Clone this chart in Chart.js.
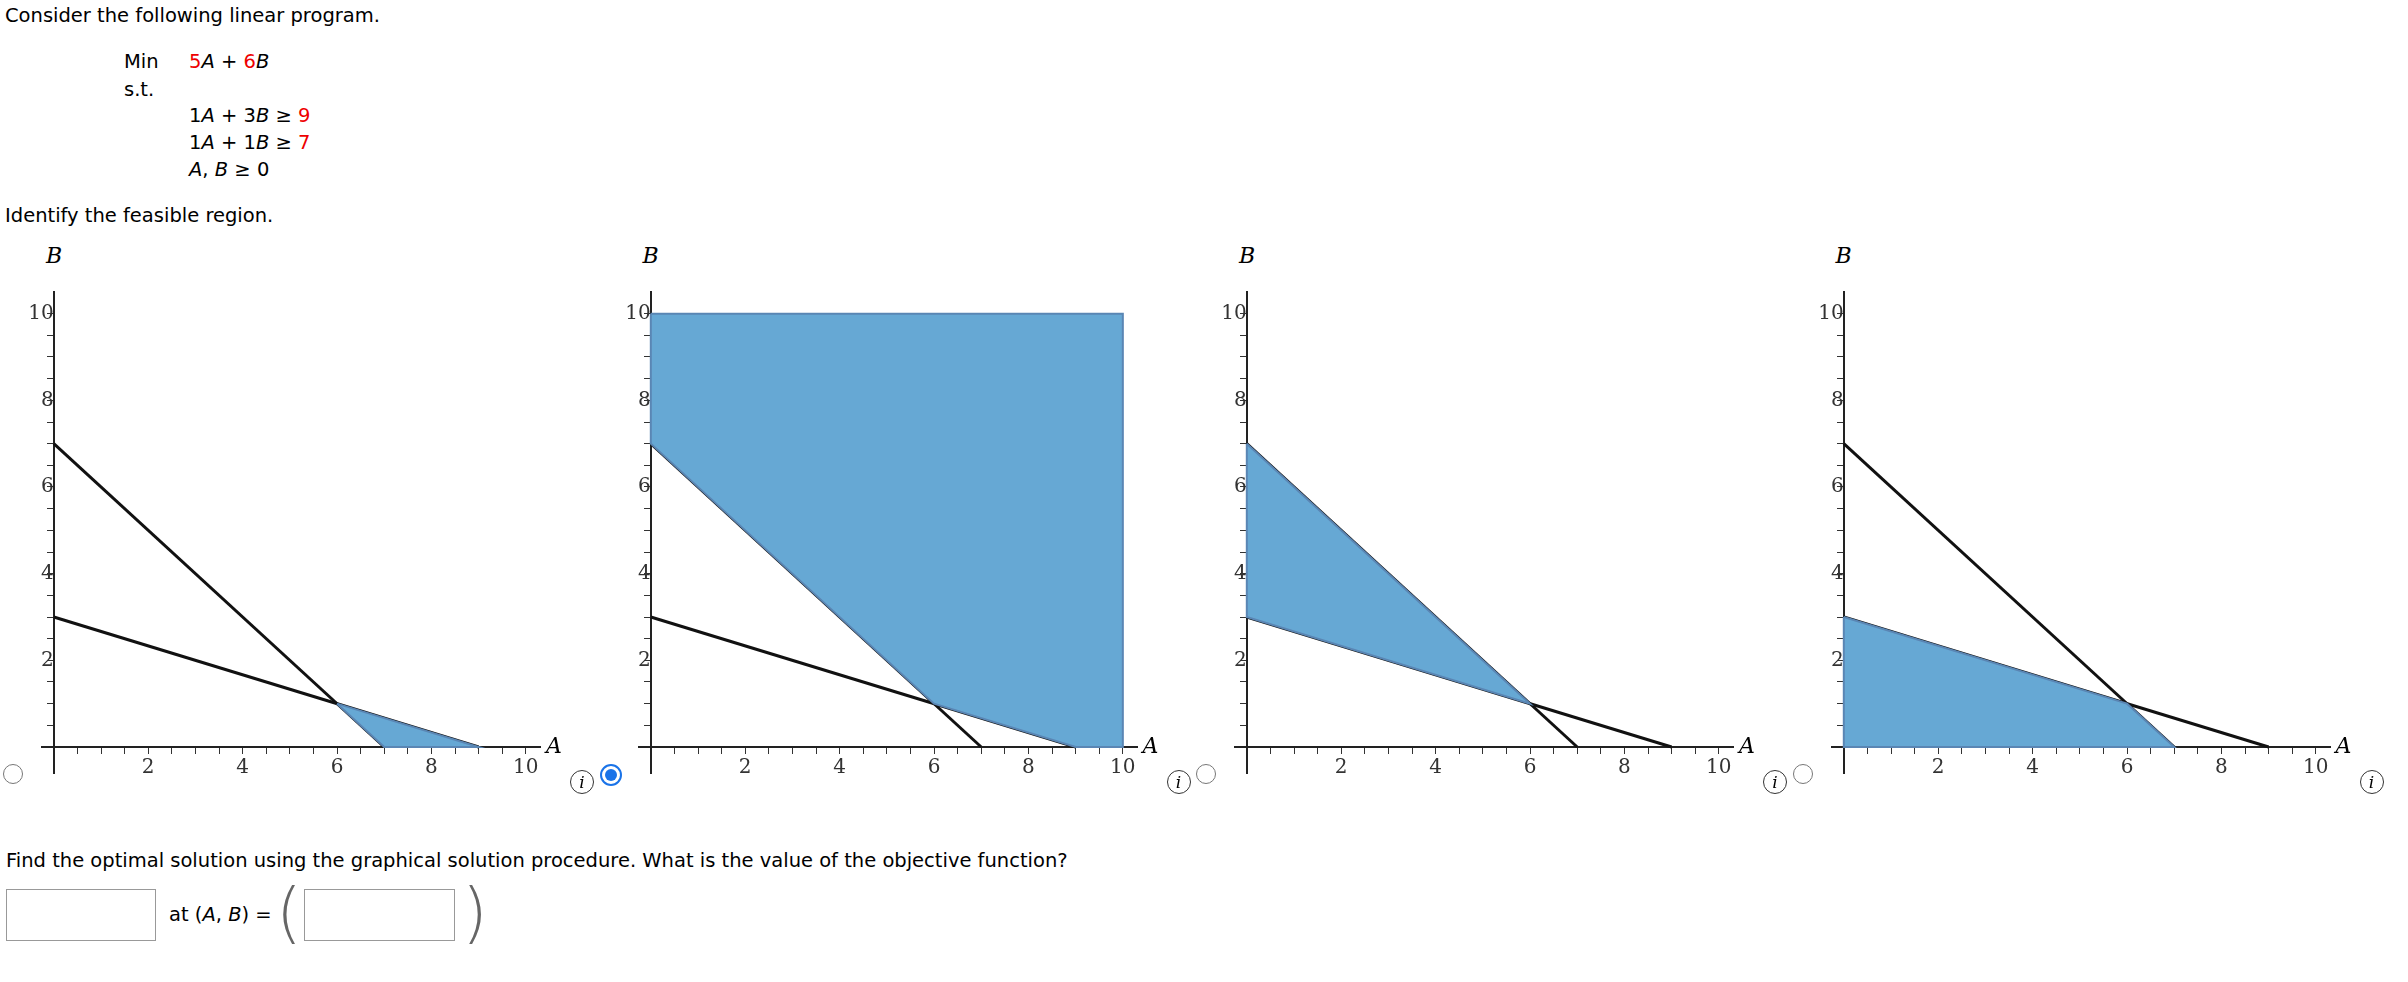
<!DOCTYPE html>
<html><head><meta charset="utf-8">
<script src="https://cdn.jsdelivr.net/npm/chart.js@4/dist/chart.umd.min.js"></script>
<style>
body{margin:0;width:2408px;height:982px;background:#fff;font-family:"DejaVu Sans",Verdana,sans-serif;font-size:19.5px;color:#000;position:relative;overflow:hidden}
.t{position:absolute;white-space:nowrap;line-height:1}
.r{color:#e00}
.ax{position:absolute;font-family:"DejaVu Serif",serif;font-style:italic;font-size:22px}
.cv{position:absolute;top:277px}
.radio{position:absolute;width:18px;height:18px;border:1.5px solid #777;border-radius:50%;background:#fff}
.radio.sel{border:2px solid #1a73e8}
.radio.sel::after{content:"";position:absolute;left:3px;top:3px;width:12px;height:12px;border-radius:50%;background:#1a73e8}
.info{position:absolute;width:22px;height:22px;border:1.5px solid #333;border-radius:50%;font-family:"DejaVu Serif",serif;font-style:italic;font-size:17px;text-align:center;line-height:22px}
.box{position:absolute;border:1.5px solid #999;background:#fff}
.par{position:absolute;font-family:"DejaVu Sans",sans-serif;font-weight:200;font-size:66px;color:#666;line-height:1}
</style></head><body>
<div class="t" style="left:5px;top:6px">Consider the following linear program.</div>
<div class="t" style="left:124px;top:52px">Min</div>
<div class="t" style="left:189px;top:52px"><span class="r">5</span><i>A</i> + <span class="r">6</span><i>B</i></div>
<div class="t" style="left:124px;top:80px">s.t.</div>
<div class="t" style="left:189px;top:106px">1<i>A</i> + 3<i>B</i> ≥ <span class="r">9</span></div>
<div class="t" style="left:189px;top:133px">1<i>A</i> + 1<i>B</i> ≥ <span class="r">7</span></div>
<div class="t" style="left:189px;top:160px"><i>A</i>, <i>B</i> ≥ 0</div>
<div class="t" style="left:5px;top:206px">Identify the feasible region.</div>
<div class="t" style="left:6px;top:851px">Find the optimal solution using the graphical solution procedure. What is the value of the objective function?</div>
<div class="box" style="left:6px;top:889px;width:148px;height:50px"></div>
<div class="t" style="left:169px;top:905px">at (<i>A</i>, <i>B</i>) =</div>
<div class="par" style="left:276px;top:880px">(</div>
<div class="box" style="left:304px;top:889px;width:149px;height:50px"></div>
<div class="par" style="left:462px;top:880px">)</div>
<div id="panels"></div>
<script>
// constraint lines
const line1A = [0, 9];   // 1A + 3B = 9
const line1B = [3, 0];
const line2A = [0, 7];   // 1A + 1B = 7
const line2B = [7, 0];
// shaded regions (vertices) for each option
const regionA = [
  [6, 9, 7],
  [0, 10, 10, 9, 6, 0],
  [0, 6, 0],
  [0, 6, 7, 0]
];
const regionB = [
  [1, 0, 0],
  [10, 10, 0, 0, 1, 7],
  [7, 1, 3],
  [3, 1, 0, 0]
];
const tickLabels = [2, 4, 6, 8, 10];
const selected = 1;

const PANEL_DX = 596.5;
const host = document.getElementById('panels');
const pts = (xs, ys) => xs.map((x, i) => ({x, y: ys[i]}));
for (let p = 0; p < 4; p++) {
  const ox = p * PANEL_DX;
  const c = document.createElement('canvas');
  c.className = 'cv'; c.style.left = (2 + ox) + 'px';
  c.width = 546; c.height = 526;
  c.style.width = '546px'; c.style.height = '526px';
  host.appendChild(c);
  host.insertAdjacentHTML('beforeend',
    `<div class="ax" style="left:${46+ox}px;top:243px">B</div>
     <div class="ax" style="left:${546+ox}px;top:733px">A</div>
     <div class="radio${p===selected?' sel':''}" style="left:${3+ox}px;top:764px"></div>
     <div class="info" style="left:${570+ox}px;top:770px">i</div>`);
  const poly = pts(regionA[p], regionB[p]); poly.push(poly[0]);
  const tickList = [];
  for (let v = 0.5; v <= 10.001; v += 0.5) tickList.push(v);
  new Chart(c, {
    type: 'scatter',
    data: { datasets: [
      { data: poly, showLine: true, fill: 'shape', backgroundColor: '#66a8d4', borderColor: '#5a86b4', borderWidth: 2, pointRadius: 0, order: 0, tension: 0 },
      { data: pts(line1A, line1B), showLine: true, fill: false, borderColor: '#111', borderWidth: 3, pointRadius: 0, order: 1 },
      { data: pts(line2A, line2B), showLine: true, fill: false, borderColor: '#111', borderWidth: 3, pointRadius: 0, order: 1 }
    ]},
    options: {
      responsive: false, animation: false, devicePixelRatio: 1,
      layout: { padding: { left: 40, top: 5, right: 8, bottom: 30 } },
      plugins: { legend: { display: false }, tooltip: { enabled: false }, filler: { propagate: false } },
      scales: {
        x: { type: 'linear', min: -0.25, max: 10.3, position: { y: 0 },
          afterBuildTicks: a => { a.ticks = tickList.map(v => ({value: v})); },
          grid: { display: true, drawOnChartArea: false, drawTicks: true, tickLength: 6, tickColor: '#333' },
          border: { color: '#222', width: 2 },
          ticks: { autoSkip: false, maxRotation: 0, color: '#333', font: { family: 'DejaVu Serif', size: 20 },
            callback: v => tickLabels.includes(v) ? String(v) : '' } },
        y: { type: 'linear', min: -0.6, max: 10.5, position: { x: 0 },
          afterBuildTicks: a => { a.ticks = tickList.map(v => ({value: v})); },
          grid: { display: true, drawOnChartArea: false, drawTicks: true, tickLength: 6, tickColor: '#333' },
          border: { color: '#222', width: 2 },
          ticks: { autoSkip: false, color: '#333', font: { family: 'DejaVu Serif', size: 20 },
            callback: v => tickLabels.includes(v) ? String(v) : '' } }
      }
    }
  });
}
</script>
</body></html>
